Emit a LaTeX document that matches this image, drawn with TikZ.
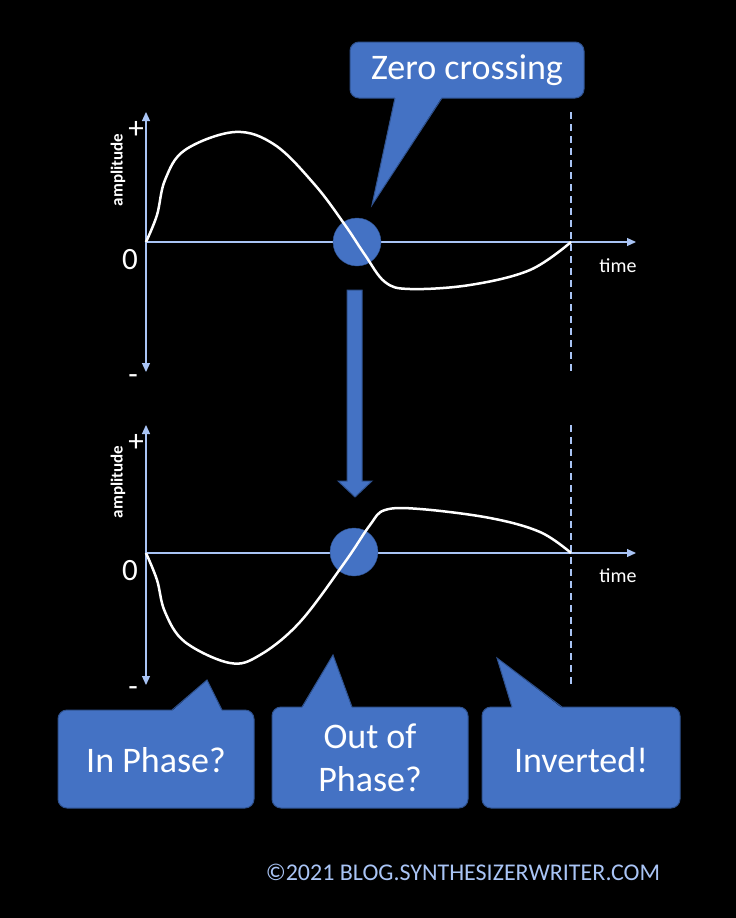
\documentclass[tikz,border=0pt]{standalone}
\usetikzlibrary{arrows.meta}
\usepackage{fontspec}
\setmainfont{Carlito}
\definecolor{ax}{HTML}{A9C4F5}
\definecolor{bl}{HTML}{4472C4}
\definecolor{bd}{HTML}{2F528F}
\begin{document}
\begin{tikzpicture}[x=1pt,y=-1pt,
  axis/.style={ax,line width=1.2pt,-{Triangle[length=9pt,width=8pt]}},
  dashl/.style={ax,line width=1.2pt,dash pattern=on 7pt off 5pt},
  wave/.style={white,line width=2.5pt},
  blob/.style={circle,fill=bl,draw=bd,minimum size=48pt,inner sep=0pt},
  call/.style={fill=bl,draw=bd,line width=1pt,rounded corners=9pt},
  lbl/.style={white,font=\fontsize{36}{43}\selectfont,align=center},
  axl/.style={white,font=\fontsize{31}{32}\selectfont},
  sm/.style={white,font=\fontsize{20}{20}\selectfont}]
\useasboundingbox[fill=black] (0,0) rectangle (736,918);
% top
\draw[axis] (146,242) -- (146,112);
\draw[axis] (146,242) -- (146,372);
\draw[axis] (146,242) -- (636,242);
\draw[dashl] (571,112) -- (571,372);
\node[blob] (c1) at (357,242) {};
\draw[wave] plot[smooth,tension=0.6] coordinates {(146,242) (157,215) (165,180) (185,150) (235,132) (275,145) (315,185) (345,225) (365,255) (385,282) (410,289) (470,285) (530,270) (571,242)};
\node[axl] at (136,130) {+};
\node[axl] at (130,260) {0};
\node[axl] at (133,380) {-};
\node[sm,rotate=90,font=\bfseries\fontsize{17}{18}\selectfont] at (118,170) {amplitude};
\node[sm] at (618,266) {time};
\draw[call] (350,42) rectangle (584,98);
\fill[bl] (395,97) -- (372,205) -- (442,97) -- cycle;
\draw[bd,line width=1pt] (395,98) -- (372,205) -- (442,98);
\node[lbl] (zc) at (467,70) {Zero crossing};
% arrow
\draw[fill=bl,draw=bd,line width=1pt] (347,290) -- (362,290) -- (362,481) -- (372,481) -- (355,497) -- (338,481) -- (347,481) -- cycle;
% bottom
\draw[axis] (146,553) -- (146,425);
\draw[axis] (146,553) -- (146,685);
\draw[axis] (146,553) -- (636,553);
\draw[dashl] (571,425) -- (571,685);
\node[blob] (c2) at (354,552) {};
\draw[wave] plot[smooth,tension=0.6] coordinates {(146,553) (157,580) (165,612) (185,642) (230,663) (260,655) (300,622) (345,562) (370,525) (385,510) (420,509) (490,518) (540,532) (571,553)};
\node[axl] at (136,443) {+};
\node[axl] at (130,571) {0};
\node[axl] at (133,692) {-};
\node[sm,rotate=90,font=\bfseries\fontsize{17}{18}\selectfont] at (118,482) {amplitude};
\node[sm] at (618,576) {time};
% callouts
\draw[call] (58,710) rectangle (254,808);
\fill[bl] (172,711) -- (207,680) -- (222,711) -- cycle;
\draw[bd,line width=1pt] (172,710) -- (207,680) -- (222,710);
\node[lbl] (ip) at (156,760) {In Phase?};
\draw[call] (272,707) rectangle (468,808);
\fill[bl] (302,708) -- (333,655) -- (352,708) -- cycle;
\draw[bd,line width=1pt] (302,707) -- (333,655) -- (352,707);
\node[lbl] (op) at (370,758) {Out of\\Phase?};
\draw[call] (482,707) rectangle (680,808);
\fill[bl] (512,708) -- (497,658) -- (562,708) -- cycle;
\draw[bd,line width=1pt] (512,707) -- (497,658) -- (562,707);
\node[lbl] (iv) at (581,760) {Inverted!};
\node[ax,font=\fontsize{24}{26}\selectfont] (ft) at (463,872) {©2021 BLOG.SYNTHESIZERWRITER.COM};
\end{tikzpicture}
\end{document}
